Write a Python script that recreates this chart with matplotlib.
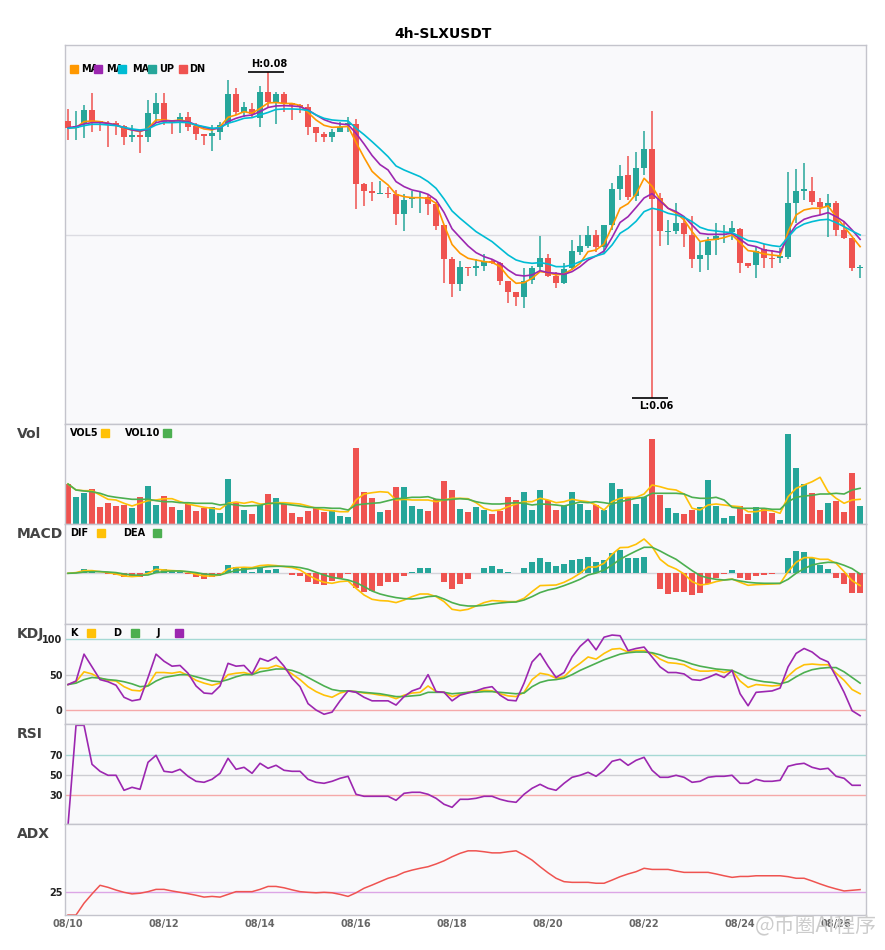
import numpy as np
import pandas as pd
import matplotlib
matplotlib.use('Agg')
import matplotlib.pyplot as plt
from matplotlib.patches import Rectangle

W, H = 885, 950

# 4h candles, prices in 1e-5 USDT
open_e5 = [7684, 7642, 7670, 7750, 7684, 7670, 7670, 7654, 7590, 7600,
           7590, 7726, 7794, 7684, 7686, 7706, 7654, 7606, 7594, 7620,
           7670, 7846, 7740, 7754, 7700, 7860, 7795, 7846, 7790, 7780,
           7768, 7646, 7604, 7590, 7620, 7660, 7664, 7308, 7264, 7248,
           7254, 7244, 7128, 7216, 7224, 7226, 7186, 7060, 6858, 6706,
           6810, 6800, 6816, 6846, 6830, 6724, 6658, 6630, 6730, 6810,
           6860, 6754, 6710, 6800, 6900, 6934, 7000, 6930, 7060, 7276,
           7360, 7236, 7400, 7516, 7220, 7016, 7024, 7070, 7000, 6856,
           6880, 6970, 6997, 7015, 7036, 6834, 6820, 6914, 6864, 6864,
           6870, 7194, 7262, 7266, 7200, 7170, 7190, 7030, 6984, 6804]
high_e5 = [7756, 7744, 7780, 7852, 7684, 7684, 7684, 7660, 7660, 7630,
           7810, 7854, 7854, 7690, 7730, 7740, 7670, 7606, 7660, 7680,
           7930, 7880, 7800, 7790, 7894, 7978, 7856, 7856, 7792, 7786,
           7784, 7648, 7618, 7634, 7676, 7706, 7696, 7312, 7316, 7324,
           7290, 7270, 7244, 7264, 7260, 7240, 7200, 7060, 6866, 6844,
           6810, 6854, 6886, 6854, 6840, 6724, 6658, 6800, 6814, 6994,
           6886, 6780, 6830, 6970, 7000, 7054, 7030, 7060, 7310, 7420,
           7474, 7496, 7624, 7746, 7250, 7090, 7190, 7114, 7114, 6960,
           6990, 7070, 7060, 7084, 7044, 6834, 6930, 6946, 6910, 6920,
           7380, 7396, 7434, 7350, 7220, 7246, 7204, 7080, 6984, 6820]
low_e5 = [7570, 7570, 7582, 7618, 7624, 7530, 7600, 7540, 7560, 7494,
          7560, 7670, 7660, 7606, 7610, 7624, 7570, 7540, 7506, 7570,
          7650, 7720, 7710, 7710, 7650, 7770, 7666, 7738, 7690, 7730,
          7600, 7556, 7560, 7560, 7616, 7620, 7156, 7176, 7204, 7248,
          7220, 7060, 7026, 7164, 7134, 7120, 7030, 6710, 6630, 6666,
          6754, 6756, 6784, 6824, 6700, 6590, 6576, 6564, 6704, 6784,
          6746, 6684, 6704, 6790, 6880, 6920, 6900, 6890, 7030, 7210,
          7210, 7206, 7360, 6022, 6934, 6940, 7006, 6930, 6804, 6780,
          6790, 6880, 6952, 6970, 6774, 6804, 6744, 6800, 6800, 6834,
          6854, 7070, 7210, 7180, 7120, 6986, 6994, 6976, 6786, 6740]
close_e5 = [7644, 7654, 7750, 7680, 7670, 7664, 7660, 7590, 7600, 7590,
            7730, 7794, 7680, 7678, 7706, 7650, 7606, 7594, 7614, 7660,
            7846, 7740, 7766, 7726, 7858, 7795, 7846, 7790, 7780, 7770,
            7650, 7614, 7590, 7618, 7648, 7670, 7308, 7264, 7254, 7254,
            7246, 7128, 7210, 7224, 7228, 7186, 7056, 6858, 6706, 6808,
            6800, 6816, 6846, 6834, 6726, 6658, 6630, 6724, 6800, 6860,
            6756, 6710, 6794, 6904, 6934, 7000, 6930, 7060, 7276, 7354,
            7230, 7400, 7516, 7216, 7026, 7024, 7070, 7006, 6856, 6880,
            6966, 6994, 7003, 7040, 6834, 6816, 6906, 6864, 6856, 6874,
            7194, 7266, 7274, 7200, 7170, 7190, 7030, 6984, 6804, 6810]

# moving averages (1e-5 USDT)
ma5_e5 = [7644, 7644, 7680, 7684, 7680, 7670, 7660, 7640, 7630, 7620,
          7640, 7690, 7690, 7684, 7690, 7680, 7654, 7636, 7630, 7650,
          7706, 7720, 7740, 7730, 7759, 7792, 7795, 7789, 7789, 7777,
          7735, 7690, 7658, 7646, 7648, 7651, 7555, 7465, 7382, 7338,
          7300, 7244, 7230, 7224, 7224, 7220, 7190, 7060, 6943, 6890,
          6860, 6850, 6840, 6836, 6810, 6750, 6710, 6714, 6740, 6780,
          6774, 6760, 6766, 6794, 6830, 6900, 6910, 6946, 7050, 7160,
          7188, 7246, 7340, 7292, 7212, 7160, 7132, 7090, 7020, 6960,
          6970, 6974, 6984, 7000, 6954, 6906, 6900, 6886, 6880, 6874,
          7020, 7120, 7150, 7160, 7160, 7174, 7110, 7050, 6990, 6930]
ma10_e5 = [7644, 7650, 7666, 7674, 7674, 7670, 7660, 7644, 7630, 7624,
           7634, 7674, 7684, 7684, 7684, 7680, 7660, 7646, 7636, 7640,
           7680, 7700, 7714, 7720, 7740, 7765, 7774, 7776, 7774, 7770,
           7750, 7720, 7692, 7674, 7666, 7662, 7610, 7546, 7477, 7422,
           7390, 7320, 7290, 7270, 7260, 7244, 7210, 7135, 7037, 6985,
           6934, 6894, 6870, 6854, 6830, 6790, 6760, 6754, 6760, 6786,
           6774, 6770, 6764, 6780, 6810, 6850, 6874, 6904, 6985, 7075,
           7110, 7165, 7222, 7248, 7205, 7160, 7140, 7110, 7060, 7010,
           7004, 7004, 7004, 7010, 6974, 6940, 6930, 6910, 6904, 6896,
           6990, 7060, 7094, 7110, 7120, 7134, 7110, 7080, 7030, 6974]
ma20_e5 = [7640, 7644, 7656, 7664, 7664, 7660, 7656, 7646, 7636, 7630,
           7636, 7660, 7674, 7674, 7676, 7674, 7660, 7650, 7640, 7644,
           7670, 7684, 7700, 7704, 7720, 7735, 7753, 7756, 7756, 7754,
           7747, 7720, 7700, 7690, 7686, 7684, 7640, 7602, 7560, 7516,
           7470, 7414, 7390, 7370, 7350, 7320, 7280, 7216, 7144, 7100,
           7060, 7020, 6990, 6960, 6920, 6880, 6850, 6836, 6830, 6834,
           6826, 6810, 6810, 6820, 6840, 6860, 6874, 6888, 6940, 7010,
           7040, 7082, 7140, 7160, 7150, 7130, 7120, 7106, 7080, 7046,
           7030, 7024, 7018, 7014, 6990, 6966, 6960, 6946, 6936, 6930,
           6986, 7040, 7066, 7080, 7090, 7094, 7074, 7050, 7024, 7000]

# volume (arbitrary units)
vol = [403, 273, 316, 353, 173, 213, 183, 193, 163, 273,
       383, 193, 283, 173, 143, 203, 133, 163, 173, 113,
       453, 213, 143, 103, 193, 303, 263, 203, 113, 73,
       133, 163, 123, 143, 83, 73, 763, 323, 263, 123,
       143, 373, 373, 183, 153, 133, 253, 433, 343, 153,
       123, 173, 143, 103, 133, 273, 243, 323, 143, 343,
       243, 143, 183, 323, 203, 143, 193, 143, 413, 353,
       263, 203, 273, 853, 293, 163, 113, 103, 143, 173,
       443, 183, 63, 83, 183, 103, 173, 153, 113, 43,
       903, 563, 403, 313, 143, 213, 233, 123, 513, 183]
vol5 = [403, 343, 336, 336, 293, 250, 243, 210, 183, 210,
        236, 243, 256, 256, 226, 203, 186, 170, 160, 150,
        210, 223, 210, 226, 203, 203, 216, 216, 210, 203,
        183, 160, 143, 136, 126, 126, 243, 303, 316, 326,
        320, 243, 250, 243, 243, 243, 226, 243, 260, 260,
        256, 216, 160, 136, 143, 176, 203, 226, 226, 260,
        243, 216, 226, 250, 236, 226, 193, 143, 226, 260,
        270, 270, 303, 393, 376, 353, 343, 303, 160, 143,
        193, 203, 193, 183, 176, 126, 126, 143, 136, 110,
        276, 360, 393, 426, 470, 326, 260, 210, 243, 250]
vol10 = [403, 343, 333, 326, 310, 283, 270, 260, 250, 250,
         250, 236, 226, 226, 216, 216, 210, 210, 210, 193,
         203, 193, 183, 186, 190, 210, 210, 203, 193, 183,
         170, 166, 166, 160, 160, 143, 193, 203, 210, 216,
         236, 256, 260, 270, 270, 276, 250, 243, 250, 256,
         250, 226, 210, 203, 203, 210, 216, 210, 193, 203,
         200, 193, 183, 203, 223, 216, 226, 216, 203, 226,
         243, 260, 270, 310, 310, 310, 310, 303, 270, 260,
         260, 270, 243, 170, 160, 160, 160, 160, 150, 150,
         226, 270, 283, 290, 303, 303, 310, 303, 343, 360]

# MACD (1e-5 USDT)
macd_hist = [0, 0, 4.3, 1.7, 0, -0.7, -1.7, -4, -4, -3.3,
             2.3, 7.7, 4, 2.3, 1.7, -1, -4, -5.3, -3.3, -0.7,
             8.3, 6.7, 5.7, 1.7, 5.7, 3.3, 4.3, 0, -1.3, -2.3,
             -8.3, -10.7, -11.7, -7.7, -5, -0.7, -14.3, -18.3, -17.7, -12.3,
             -8.3, -8.3, -2.3, 1.7, 5.7, 5.7, 0, -8.3, -15.7, -10.7,
             -5.7, 0, 5.7, 7.7, 4.3, 1.3, 0, 5.7, 11.3, 15.7,
             11.3, 7.7, 9.3, 13.3, 14.7, 16.3, 11.3, 13.3, 20.7, 23.3,
             15.7, 15.7, 16.7, 0, -15.7, -20.3, -18.7, -18.7, -21.7, -19.7,
             -10.7, -4.7, -0.7, 3.3, -4.7, -6.7, -2.7, -1.7, -0.7, 0,
             15.7, 22.3, 21.3, 15.7, 8.3, 4.3, -4.7, -10.7, -19.7, -19.7]
dif = [0, 0.7, 2.7, 2.7, 1.7, 0.7, -0.7, -2.7, -3.3, -2.7,
       0, 4, 3.3, 2.7, 2.3, 1.3, -1, -2.7, -2.7, -1.7,
       4.3, 5.7, 6, 5.7, 7.7, 8.3, 7.7, 6.7, 5.7, 3.3,
       -1.7, -6, -9, -10, -8.3, -7.7, -15, -21.7, -26, -27.3,
       -27.7, -29.3, -26.7, -23.3, -20.7, -20.7, -23.3, -28.3, -36, -37.3,
       -36, -32.7, -29.3, -27.3, -27.7, -28.3, -28.3, -25, -18.3, -12.3,
       -12, -11.7, -9, -5, 0, 6.3, 6.3, 10, 19, 25.7,
       26, 29, 34.3, 26.7, 14, 7.7, 4.3, -0.7, -8.3, -11.7,
       -10.7, -8.3, -6.7, -5.7, -9, -12, -11.3, -11, -10.7, -10.3,
       1.7, 11, 15.7, 15.7, 14, 14, 10, 1.7, -7.3, -12.3]
dea = [0, 0.3, 1.3, 1.7, 1.7, 1.3, 0.7, -0.7, -1.7, -2,
       -1.7, 0.7, 1.7, 2.3, 2.3, 1.7, 0.7, -0.7, -1.3, -1.7,
       0.7, 2.7, 4, 4.7, 5.7, 6.7, 7, 7, 6.7, 5.7,
       4, 1, -1.7, -4, -5.3, -6.7, -9.3, -13.3, -17.7, -20.7,
       -22.7, -24.3, -25.3, -25.7, -25, -23.3, -22.7, -25.7, -29.3, -31.7,
       -32.7, -32.7, -32, -30.7, -29.7, -29, -28.7, -26.7, -23.3, -19.3,
       -16.7, -15, -12.3, -9.3, -6, -1.7, 0.3, 3.3, 8.3, 14,
       18.3, 22.3, 26, 26, 22.3, 18, 14, 8.3, 2.7, -2.3,
       -4.7, -6, -6.7, -6, -7.7, -9, -9.7, -10, -10, -10,
       -6, 0, 4.7, 8.3, 10, 11, 10.7, 8, 4.7, -0.7]

# KDJ
kdj_k = [36, 40, 54, 51, 45, 42, 41, 33, 28, 27,
         35, 53, 53, 52, 54, 49, 42, 38, 35, 38,
         50, 52, 53, 50, 59, 59, 63, 59, 51, 43,
         33, 26, 21, 18, 24, 27, 26, 24, 23, 21,
         20, 16, 21, 24, 25, 34, 26, 25, 19, 22,
         25, 27, 28, 27, 23, 20, 19, 25, 43, 52,
         50, 45, 47, 58, 66, 75, 72, 80, 86, 87,
         82, 84, 84, 80, 72, 67, 66, 64, 58, 55,
         55, 56, 53, 56, 41, 32, 36, 35, 34, 35,
         48, 58, 64, 65, 64, 64, 52, 42, 29, 23]
kdj_d = [36, 38, 43, 46, 45, 43, 42, 40, 37, 33,
         34, 41, 46, 48, 50, 50, 47, 44, 41, 40,
         43, 47, 50, 50, 54, 56, 58, 58, 56, 52,
         46, 40, 34, 29, 27, 27, 26, 25, 24, 23,
         21, 19, 19, 20, 21, 25, 25, 25, 23, 24,
         25, 25, 26, 26, 25, 24, 23, 24, 33, 39,
         42, 43, 45, 50, 56, 61, 66, 71, 75, 79,
         81, 82, 82, 81, 78, 74, 72, 69, 65, 62,
         60, 58, 57, 56, 51, 45, 42, 40, 39, 37,
         40, 47, 53, 57, 59, 60, 60, 54, 46, 38]
kdj_j = [36, 41, 79, 61, 43, 40, 35, 18, 13, 15,
         46, 79, 69, 62, 63, 52, 34, 24, 23, 34,
         66, 62, 63, 51, 73, 69, 75, 62, 45, 33,
         9, 0, -6, -3, 13, 27, 25, 18, 13, 13,
         13, 7, 19, 27, 31, 50, 26, 25, 13, 21,
         24, 27, 31, 33, 21, 14, 13, 38, 68, 80,
         62, 46, 53, 75, 90, 100, 85, 103, 106, 105,
         84, 87, 89, 75, 61, 53, 53, 51, 43, 42,
         46, 51, 46, 56, 23, 6, 25, 26, 27, 31,
         61, 80, 87, 82, 73, 68, 47, 25, -1, -8]

rsi = [0, 100, 100, 61, 54, 50, 50, 35, 38, 36,
       63, 70, 54, 53, 56, 49, 44, 43, 46, 52,
       67, 56, 58, 52, 62, 57, 60, 55, 54, 54,
       46, 43, 42, 44, 47, 49, 31, 29, 29, 29,
       29, 25, 32, 33, 33, 31, 27, 21, 18, 26,
       26, 27, 29, 29, 26, 24, 23, 31, 37, 41,
       37, 35, 42, 48, 50, 53, 49, 55, 64, 66,
       60, 65, 68, 55, 48, 48, 50, 48, 43, 44,
       48, 49, 49, 50, 42, 42, 46, 44, 44, 45,
       59, 61, 62, 58, 56, 57, 49, 47, 40, 40]

adx = [15, 15, 20.2, 24.3, 28.1, 27.2, 26.0, 25.0, 24.3, 24.6,
       25.3, 26.3, 26.3, 25.6, 25.0, 24.4, 23.7, 22.9, 23.2, 22.9,
       24.1, 25.3, 25.3, 25.3, 26.3, 27.6, 27.6, 27.0, 26.1, 25.3,
       25.0, 24.8, 25.0, 24.8, 24.1, 23.2, 24.8, 26.8, 28.2, 29.7,
       31.2, 32.2, 33.8, 34.8, 35.6, 36.3, 37.5, 38.9, 40.7, 42.2,
       43.3, 43.3, 42.9, 42.4, 42.4, 42.9, 43.3, 41.4, 39.2, 36.3,
       33.6, 31.2, 29.7, 29.4, 29.4, 29.4, 29.0, 29.0, 30.4, 31.9,
       33.1, 34.1, 35.6, 35.1, 35.1, 35.1, 34.4, 33.8, 33.8, 33.8,
       33.8, 33.1, 32.3, 31.6, 32.0, 32.0, 32.3, 32.3, 32.3, 32.3,
       31.9, 31.2, 31.2, 30.0, 28.7, 27.5, 26.5, 25.6, 25.9, 26.2]

o = np.array(open_e5) / 1e5
hi = np.array(high_e5) / 1e5
lo = np.array(low_e5) / 1e5
c = np.array(close_e5) / 1e5
n = len(c)
x = np.arange(n)
dates = pd.date_range('2024-08-10 00:00', periods=n, freq='4h')

UP, DN = '#26a69a', '#ef5350'
YEL, GRN, PUR = '#ffc107', '#4caf50', '#9c27b0'
cols = np.where(c >= o, UP, DN)

fig = plt.figure(figsize=(W / 100, H / 100), dpi=100)
fig.patch.set_facecolor('white')


def panel(top, bottom):
    left, right = 65.3, 865.7
    ax = fig.add_axes([left / W, 1 - bottom / H, (right - left) / W, (bottom - top) / H])
    ax.set_facecolor('#f9f9fb')
    for s in ax.spines.values():
        s.set_color('#c4c4cc')
        s.set_linewidth(1)
    ax.set_xlim(-0.34, 99.7)
    ax.set_xticks([])
    ax.set_yticks([])
    ax.tick_params(length=0, labelsize=7, pad=2, colors='#222')
    return ax


def ftext(px, py, s, **kw):
    kw.setdefault('fontsize', 7)
    kw.setdefault('fontweight', 'bold')
    kw.setdefault('va', 'center')
    fig.text(px / W, 1 - py / H, s, **kw)


def fsquare(px, py, color, size=7.5):
    fig.add_artist(Rectangle((px / W, 1 - (py + size / 2) / H), size / W, size / H,
                             transform=fig.transFigure, color=color, zorder=5))


def bold_ticks(ax):
    for t in ax.get_yticklabels() + ax.get_xticklabels():
        t.set_fontweight('bold')


# ---- price ----
ax = panel(45.3, 424.3)
ax.set_ylim(0.05864, 0.08138)
ax.axhline(0.07, color='#dcdce2', lw=1, zorder=0)
ax.vlines(x, lo, hi, colors=cols, lw=1.1, zorder=2)
body = np.maximum(np.abs(c - o), 0.00005)
ax.bar(x, body, bottom=np.minimum(o, c), width=0.75, color=cols, zorder=3)
ax.plot(x, np.array(ma5_e5) / 1e5, color='#ff9800', lw=1.2, zorder=4)
ax.plot(x, np.array(ma10_e5) / 1e5, color=PUR, lw=1.2, zorder=4)
ax.plot(x, np.array(ma20_e5) / 1e5, color='#00bcd4', lw=1.2, zorder=4)

ih, il = int(np.argmax(hi)), int(np.argmin(lo))
ax.hlines(hi[ih], ih - 2.5, ih + 2, color='black', lw=1.2)
ax.text(ih + 0.2, hi[ih] + 0.0002, f'H:{hi[ih]:.2f}', ha='center', va='bottom',
        fontsize=7, fontweight='bold')
ax.hlines(lo[il], il - 2.5, il + 2, color='black', lw=1.2)
ax.text(il + 0.5, lo[il] - 0.0002, f'L:{lo[il]:.2f}', ha='center', va='top',
        fontsize=7, fontweight='bold')

ftext(443, 34, '4h-SLXUSDT', ha='center', fontsize=10)
for sx, tx, colr, lab in [(70, 81, '#ff9800', 'MA'), (94, 106, PUR, 'MA'),
                          (118, 132, '#00bcd4', 'MA'), (148, 159, UP, 'UP'),
                          (179, 189, DN, 'DN')]:
    ftext(tx, 69, lab)
    fsquare(sx, 69, colr)

# ---- volume ----
ax = panel(424.3, 524.3)
ax.set_ylim(0, 1000)
ax.bar(x, vol, width=0.75, color=cols)
ax.plot(x, vol5, color=YEL, lw=1.2)
ax.plot(x, vol10, color=GRN, lw=1.2)
ftext(17, 434, 'Vol', fontsize=10, color='#444')
ftext(70, 433, 'VOL5')
fsquare(101, 433, YEL)
ftext(125, 433, 'VOL10')
fsquare(163, 433, GRN)

# ---- MACD ----
ax = panel(524.3, 624.3)
ax.set_ylim(-51, 49)
ax.axhline(0, color='#d4d4da', lw=1, zorder=0)
hist = np.array(macd_hist)
ax.bar(x, hist, width=0.75, color=np.where(hist >= 0, UP, DN))
ax.plot(x, dif, color=YEL, lw=1.2)
ax.plot(x, dea, color=GRN, lw=1.2)
ftext(17, 534, 'MACD', fontsize=10, color='#444')
ftext(70, 533, 'DIF')
fsquare(97, 533, YEL)
ftext(123, 533, 'DEA')
fsquare(153, 533, GRN)

# ---- KDJ ----
ax = panel(624.3, 724.3)
ax.set_ylim(-20.2, 121.2)
ax.axhline(100, color='#a6d9d4', lw=1, zorder=0)
ax.axhline(50, color='#cdcdd2', lw=1, zorder=0)
ax.axhline(0, color='#f5a9a9', lw=1, zorder=0)
ax.plot(x, kdj_k, color=YEL, lw=1.2)
ax.plot(x, kdj_d, color=GRN, lw=1.2)
ax.plot(x, kdj_j, color=PUR, lw=1.2)
ax.set_yticks([0, 50, 100])
bold_ticks(ax)
ftext(17, 634, 'KDJ', fontsize=10, color='#444')
ftext(70, 633, 'K')
fsquare(87, 633, YEL)
ftext(113, 633, 'D')
fsquare(131, 633, GRN)
ftext(157, 633, 'J')
fsquare(175, 633, PUR)

# ---- RSI ----
ax = panel(724.3, 824.3)
ax.set_ylim(1, 101)
ax.axhline(70, color='#a6d9d4', lw=1, zorder=0)
ax.axhline(50, color='#cdcdd2', lw=1, zorder=0)
ax.axhline(30, color='#f5a9a9', lw=1, zorder=0)
ax.plot(x, rsi, color=PUR, lw=1.2)
ax.set_yticks([30, 50, 70])
bold_ticks(ax)
ftext(17, 734, 'RSI', fontsize=10, color='#444')

# ---- ADX ----
ax = panel(824.3, 915)
ax.set_ylim(15, 55)
ax.axhline(25, color='#dca6e6', lw=1, zorder=0)
ax.plot(x, adx, color=DN, lw=1.1)
ax.set_yticks([25])
ticks = x[::12]
ax.set_xticks(ticks)
ax.set_xticklabels(dates[ticks].strftime('%m/%d'))
ax.tick_params(axis='x', colors='#666', pad=3)
bold_ticks(ax)
ftext(17, 834, 'ADX', fontsize=10, color='#444')

fig.text(877 / W, 1 - 926 / H, '@币圈AI程序', ha='right', va='center', fontsize=15,
         color='#cccccc', family=['Noto Sans CJK SC', 'DejaVu Sans'])

fig.savefig('out.png', dpi=100)
